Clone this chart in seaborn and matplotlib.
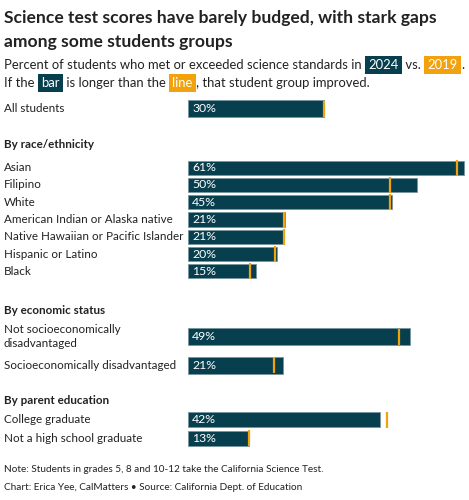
import numpy as np
import pandas as pd
import matplotlib
matplotlib.use("Agg")
import matplotlib.pyplot as plt
import seaborn as sns
from matplotlib import transforms

# --- data (percent meeting/exceeding science standards) ---
all_names = ["All students"]
all_2024 = [30.0]
all_2019 = [30.0]

race_names = ["Asian", "Filipino", "White", "American Indian or Alaska native",
              "Native Hawaiian or Pacific Islander", "Hispanic or Latino", "Black"]
race_2024 = [60.6, 50.4, 44.9, 21.3, 21.2, 19.6, 15.0]
race_2019 = [59.2, 44.5, 44.5, 21.2, 21.1, 19.1, 13.7]

econ_names = ["Not socioeconomically\ndisadvantaged", "Socioeconomically disadvantaged"]
econ_2024 = [48.7, 20.8]
econ_2019 = [46.3, 18.8]

parent_names = ["College graduate", "Not a high school graduate"]
parent_2024 = [42.3, 13.4]
parent_2019 = [43.7, 13.5]

TEAL = "#083f4e"
ORANGE = "#f2a20c"
TEXT = "#222222"
LABEL_FS = 8.4

sns.set_style("white")
plt.rcParams["font.family"] = ["Lato", "DejaVu Sans"]

W, H = 469, 500
fig = plt.figure(figsize=(W / 100, H / 100), dpi=100)
renderer = fig.canvas.get_renderer()


def px_axes(top, bottom, left=188, right=465.5):
    return fig.add_axes([left / W, 1 - bottom / H, (right - left) / W, (bottom - top) / H])


def draw_group(ax, names, now, before, width):
    df = pd.DataFrame({"group": names, "y2024": now})
    sns.barplot(data=df, x="y2024", y="group", ax=ax, color=TEAL, width=width,
                saturation=1, edgecolor="#7595a0", linewidth=0.6)
    ax.plot(before, np.arange(len(names)), ls="none", marker="|", ms=11, mew=1.6, color=ORANGE)
    ax.set_xlim(0, 61)
    ax.axis("off")
    tr = transforms.blended_transform_factory(fig.transFigure, ax.transData)
    for i, (n, v) in enumerate(zip(names, now)):
        ax.text(4 / W, i, n, transform=tr, ha="left", va="center", fontsize=LABEL_FS,
                color=TEXT, linespacing=1.3)
        ax.annotate(f"{v:.0f}%", (0, i), xytext=(3, 0), textcoords="offset points",
                    ha="left", va="center", color="white", fontsize=8.8)


def header(y_px, txt):
    fig.text(4 / W, 1 - y_px / H, txt, fontsize=LABEL_FS, fontweight="bold", color=TEXT,
             ha="left", va="center")


def rich_line(y_px, pieces, fs):
    x = 4.0
    pad = 0.25 * fs * 100 / 72
    for txt, bg in pieces:
        if bg:
            x += pad
            t = fig.text(x / W, 1 - y_px / H, txt, fontsize=fs, color="white", ha="left", va="center",
                         bbox=dict(boxstyle="square,pad=0.25", fc=bg, ec="none"))
        else:
            t = fig.text(x / W, 1 - y_px / H, txt, fontsize=fs, color=TEXT, ha="left", va="center")
        bb = t.get_window_extent(renderer)
        x = bb.x1 + (pad if bg else 0)


# title and subtitle
fig.text(4 / W, 1 - 18 / H, "Science test scores have barely budged, with stark gaps",
         fontsize=12.6, fontweight="bold", color=TEXT, ha="left", va="center")
fig.text(4 / W, 1 - 42 / H, "among some students groups",
         fontsize=12.6, fontweight="bold", color=TEXT, ha="left", va="center")
rich_line(65, [("Percent of students who met or exceeded science standards in ", None),
               ("2024", TEAL), (" vs. ", None), ("2019", ORANGE), (".", None)], 9.4)
rich_line(83, [("If the ", None), ("bar", TEAL), (" is longer than the ", None),
               ("line", ORANGE), (", that student group improved.", None)], 9.4)

# groups
draw_group(px_axes(99.25, 117.75), all_names, all_2024, all_2019, 0.81)
header(145, "By race/ethnicity")
draw_group(px_axes(154.75, 284.25), race_names, race_2024, race_2019, 0.81)
header(311, "By economic status")
draw_group(px_axes(325.7, 376.1), econ_names, econ_2024, econ_2019, 0.6)
header(400, "By parent education")
draw_group(px_axes(410.4, 447.6), parent_names, parent_2024, parent_2019, 0.81)

# footer
fig.text(4 / W, 1 - 469 / H, "Note: Students in grades 5, 8 and 10-12 take the California Science Test.",
         fontsize=7.2, color=TEXT, ha="left", va="center")
fig.text(4 / W, 1 - 487 / H, "Chart: Erica Yee, CalMatters \u2022 Source: California Dept. of Education",
         fontsize=7.2, color=TEXT, ha="left", va="center")

fig.savefig("out.png", dpi=100)
